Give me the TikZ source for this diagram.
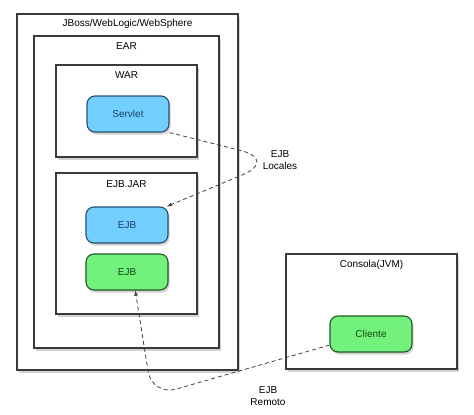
\documentclass[tikz,border=0pt]{standalone}
\usepackage{fontspec}
\setmainfont{Liberation Sans}
\usetikzlibrary{shadows}
\definecolor{beanblue}{HTML}{73CFFF}
\definecolor{beanbluedraw}{HTML}{24506E}
\definecolor{beanbluetext}{HTML}{1B3F66}
\definecolor{beangreen}{HTML}{72F27C}
\definecolor{beangreendraw}{HTML}{1F5A23}
\definecolor{beangreentext}{HTML}{0F4A12}
\definecolor{boxdraw}{HTML}{3A3A3A}
\begin{document}
\begin{tikzpicture}[x=1pt,y=-1pt,
  every node/.style={font=\fontsize{10}{12}\selectfont},
  container/.style={draw=boxdraw,fill=white,line width=1.1pt,
    drop shadow={shadow xshift=1.5pt,shadow yshift=-2.5pt,opacity=0.35}},
  bluebean/.style={draw=beanbluedraw,fill=beanblue,text=beanbluetext,line width=1.1pt,
    rounded corners=8pt,minimum width=82pt,minimum height=36pt,
    drop shadow={shadow xshift=1.5pt,shadow yshift=-2.5pt,opacity=0.35}},
  greenbean/.style={bluebean,draw=beangreendraw,fill=beangreen,text=beangreentext},
  link/.style={->,>=latex,dashed,dash pattern=on 4pt off 3pt,draw=black!75,line width=0.8pt}]
\useasboundingbox (0,0) rectangle (474,415);

% containers
\draw[container] (17,14) rectangle (238,370);
\node (server) at (127.5,24) {JBoss/WebLogic/WebSphere};
\draw[container] (34,36) rectangle (219,348);
\node (ear) at (126.5,46) {EAR};
\draw[container] (56,65) rectangle (197,157);
\node (war) at (126.5,75) {WAR};
\draw[container] (56,173) rectangle (197,314);
\node (jar) at (126.5,184) {EJB.JAR};
\draw[container] (286,254) rectangle (457,369);
\node (consola) at (371.5,265) {Consola(JVM)};

% components
\node[bluebean] (servlet) at (128,114) {Servlet};
\node[bluebean] (ejbl) at (127,225) {EJB};
\node[greenbean] (ejbr) at (127,272) {EJB};
\node[greenbean] (cliente) at (371,334) {Cliente};

% calls
\coordinate (bendl) at (278,160);
\coordinate (bendr) at (152,396);
\draw[link,rounded corners=38pt] (servlet.south east) -- (bendl) -- (ejbl.25);
\draw[link,rounded corners=25pt] (cliente.195) -- (bendr) -- (ejbr.-66);

\node[align=center] (locales) at (280,160) {EJB\\Locales};
\node[align=center] (remoto) at (268,396) {EJB\\Remoto};
\end{tikzpicture}
\end{document}
